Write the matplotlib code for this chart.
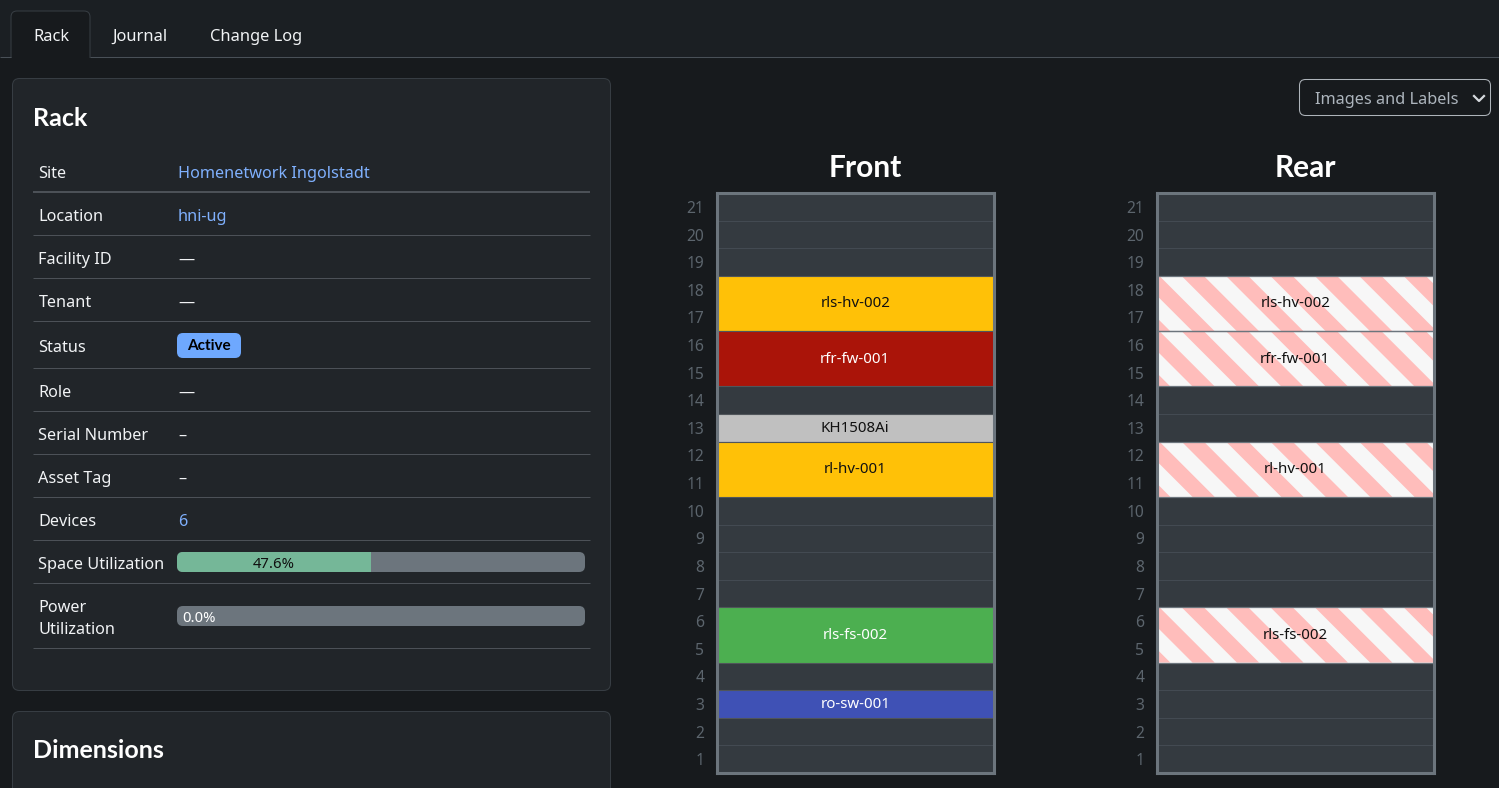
import matplotlib
matplotlib.use('Agg')
import matplotlib.pyplot as plt
from matplotlib.patches import FancyBboxPatch, Rectangle

plt.rcParams['font.family'] = ['Noto Sans', 'DejaVu Sans']

W, H = 1499, 788

PAGE = '#171a1d'
CARD = '#212529'
RACK = '#343a40'
LINE = '#495057'
TEXT = '#f1f3f5'
LINK = '#7fb0fd'
BOLD = ['Lato', 'DejaVu Sans']

tabs = ['Rack', 'Journal', 'Change Log']
row_labels = ['Site', 'Location', 'Facility ID', 'Tenant', 'Status', 'Role',
              'Serial Number', 'Asset Tag', 'Devices', 'Space Utilization', 'Power\nUtilization']
row_values = ['Homenetwork Ingolstadt', 'hni-ug', '—', '—', 'Active', '—', '–', '–', '6', '', '']
space_used = 47.6
power_used = 0.0

units = list(range(1, 22))
front_names = ['rls-hv-002', 'rfr-fw-001', 'KH1508Ai', 'rl-hv-001', 'rls-fs-002', 'ro-sw-001']
front_start = [17, 15, 13, 11, 5, 3]
front_size = [2, 2, 1, 2, 2, 1]
front_colors = ['#ffc107', '#aa1409', '#c0c0c0', '#ffc107', '#4caf50', '#3f51b5']
front_text = ['#111111', '#ffffff', '#111111', '#111111', '#ffffff', '#ffffff']
rear_names = ['rls-hv-002', 'rfr-fw-001', 'rl-hv-001', 'rls-fs-002']
rear_start = [17, 15, 11, 5]
rear_size = [2, 2, 2, 2]


def px_axes(x, y, w, h):
    return fig.add_axes([x / W, 1 - (y + h) / H, w / W, h / H])


def rbox(x, y, w, h, r, fc, ec='none', lw=0.75, z=1):
    p = FancyBboxPatch((x + r, y + r), w - 2 * r, h - 2 * r, boxstyle='round,pad=%f,rounding_size=%f' % (r, r),
                       fc=fc, ec=ec, lw=lw, zorder=z)
    page.add_patch(p)
    return p


def progress(y, pct, text_color):
    track = rbox(177, y, 408, 20, 6, '#6c757d', z=2)
    a = px_axes(177, y, 408, 20)
    a.set_xlim(0, 100)
    a.set_ylim(0, 1)
    a.axis('off')
    bars = a.barh([0.5], [pct], height=1, color='#75b798')
    bars[0].set_clip_path(track)
    # label sits centred in the fill, or just inside the track when empty
    if pct > 0:
        a.text(pct / 2, 0.38, '%.1f%%' % pct, ha='center', va='center', fontsize=10.7, color=text_color)
    else:
        a.text(1.2, 0.38, '%.1f%%' % pct, ha='left', va='center', fontsize=10.7, color=text_color)


def stripes(a, start, size):
    # 45 degree bands, one period is 44.4 px along the row
    px_per_u = 579.8 / 21
    h = size * px_per_u
    clip = Rectangle((0, start - 0.5), 277, size, transform=a.transData)
    off = 25 - 2 * 44.4
    while off < 277:
        xs = [off, off + 22.2, off + 22.2 + h, off + h]
        ys = [start - 0.5 + size, start - 0.5 + size, start - 0.5, start - 0.5]
        poly = a.fill(xs, ys, color='#ffbdbb', lw=0, zorder=3)[0]
        poly.set_clip_path(clip)
        off += 44.4


def rack(x, title, names, start, size, colors=None, text_colors=None):
    a = px_axes(x, 193.2, 277, 579.8)
    a.set_facecolor(RACK)
    a.set_xlim(0, 277)
    a.set_ylim(0.5, 21.5)
    a.set_xticks([])
    a.set_yticks(units)
    a.set_yticklabels([str(u) for u in units], fontsize=11.2, color='#5c656d')
    a.tick_params(axis='y', length=0, pad=9)
    for u in units[:-1]:
        a.axhline(u + 0.5, color='#434a52', lw=0.8, zorder=1)
    for s in a.spines.values():
        s.set_color('#6c757d')
        s.set_linewidth(2.2)
        s.set_zorder(6)
    for i, name in enumerate(names):
        mid = start[i] - 0.5 + size[i] / 2
        if colors:
            a.barh([mid], [277], height=size[i], color=colors[i], edgecolor='#50555a', lw=0.8, zorder=2)
            tc = text_colors[i]
        else:
            a.barh([mid], [277], height=size[i], color='#f7f7f7', lw=0, zorder=2)
            stripes(a, start[i], size[i])
            a.barh([mid], [277], height=size[i], fill=False, edgecolor='#6c757d', lw=0.9, zorder=4)
            tc = '#111111'
        a.text(138.5, mid - 0.01, name, ha='center', va='center', fontsize=10.8, color=tc, zorder=5)
    page.text(x + 148.5, 168, title, ha='center', va='center', fontsize=21.5, fontweight='bold', family=BOLD, color='white')


fig = plt.figure(figsize=(W / 100, H / 100), dpi=100, facecolor=PAGE)
page = fig.add_axes([0, 0, 1, 1])
page.set_xlim(0, W)
page.set_ylim(H, 0)
page.axis('off')

# tab bar
page.add_patch(Rectangle((0, 0), W, 57, fc='#1b1f23', ec='none'))
rbox(11, 11, 79, 60, 6, PAGE, ec='#373d43', z=2)
page.add_patch(Rectangle((0, 58), W, 20, fc=PAGE, ec='none', zorder=3))
page.plot([0, 11], [57, 57], color=LINE, lw=0.75, zorder=4, solid_capstyle='butt')
page.plot([90, W], [57, 57], color=LINE, lw=0.75, zorder=4, solid_capstyle='butt')
for t, x in zip(tabs, [33.5, 112, 210]):
    page.text(x, 37, t, va='center', fontsize=11.85, color=TEXT, zorder=4)

# cards
rbox(12.5, 78.5, 598, 612, 7, CARD, ec='#373d43')
rbox(12.5, 711.5, 598, 100, 7, CARD, ec='#373d43')
page.text(33.5, 118, 'Rack', va='center', fontsize=18, fontweight='bold', family=BOLD, color='white')
page.text(33.5, 750, 'Dimensions', va='center', fontsize=18, fontweight='bold', family=BOLD, color='white')

# attribute table
row_y = [174, 217, 260, 303, 348, 393, 436, 479, 522, 565, 619]
sep_y = [191.5, 235, 278, 321, 368, 411, 454, 497, 540, 583, 648]
for i, (label, value) in enumerate(zip(row_labels, row_values)):
    page.text(38.5, row_y[i], label, va='center', fontsize=11.7, color=TEXT, linespacing=1.5)
    page.plot([33, 590], [sep_y[i], sep_y[i]], color='#4c5157', lw=1.44 if i == 0 else 0.75, solid_capstyle='butt')
    if label == 'Status':
        rbox(177, 333, 64, 25, 6, '#6ea8fe', z=2)
        page.text(209, 346, value, ha='center', va='center', fontsize=11, fontweight='bold', family=BOLD, color='black', zorder=3)
    elif value:
        is_link = label in ('Site', 'Location', 'Devices')
        page.text(178, row_y[i], value, va='center', fontsize=11.7, color=LINK if is_link else TEXT)
progress(552, space_used, '#111111')
progress(606, power_used, '#ffffff')

# view select
rbox(1299.5, 79.5, 191, 36, 6, PAGE, ec='#aeb4ba')
page.text(1315, 100, 'Images and Labels', va='center', fontsize=11.7, color='#adb5bd')
page.plot([1474, 1479, 1484], [96, 101, 96], color='#d5d9dd', lw=1.6)

rack(716.7, 'Front', front_names, front_start, front_size, front_colors, front_text)
rack(1156.7, 'Rear', rear_names, rear_start, rear_size)

fig.savefig('out.png', dpi=100, facecolor=PAGE)
